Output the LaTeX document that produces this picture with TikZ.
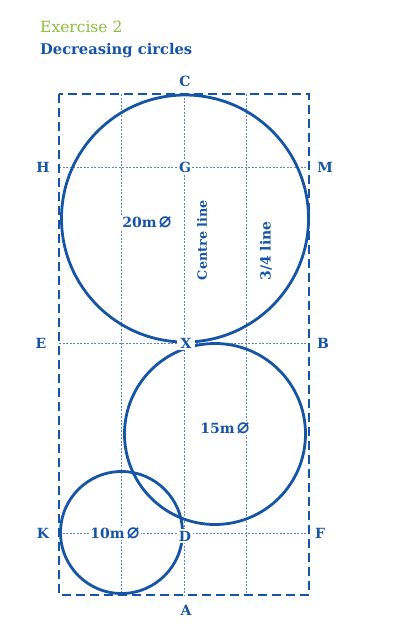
\documentclass[tikz,border=0pt]{standalone}
\usepackage{fontspec}
\setmainfont{DejaVu Serif}
\newfontfamily\dsans{DejaVu Sans}
\newcommand{\diam}{{\dsans\bfseries\fontsize{21}{21}\selectfont ⌀}}
\definecolor{pblue}{RGB}{22,84,165}
\definecolor{pgreen}{RGB}{140,190,60}
\definecolor{gblue}{RGB}{90,135,190}
\begin{document}
\begin{tikzpicture}[x=1pt,y=-1pt,
  lab/.style={font=\bfseries\fontsize{14}{15}\selectfont, text=pblue, inner sep=1.5pt},
  wlab/.style={lab, fill=white},
  gridline/.style={draw=gblue, line width=0.6pt, dash pattern=on 2pt off 1.5pt},
  frame/.style={draw=pblue, line width=2.4pt, dash pattern=on 9pt off 5pt},
  ring/.style={draw=pblue, line width=2.8pt}]
\useasboundingbox (0,0) rectangle (400,638);
% titles
\node[anchor=base west, inner sep=0pt, text=pgreen, font=\fontsize{15.5}{16}\selectfont] (ex) at (40,32) {Exercise 2};
\node[anchor=base west, inner sep=0pt, text=pblue, font=\bfseries\fontsize{14.7}{16}\selectfont] (title) at (40,54) {Decreasing circles};
% frame coordinates
\coordinate (NW) at (59,94);
\coordinate (NE) at (309,94);
\coordinate (SW) at (59,595);
\coordinate (SE) at (309,595);
\foreach \n/\x in {q1/121.5,q2/184,q3/246.5}{
  \coordinate (\n t) at (\x,94);
  \coordinate (\n b) at (\x,595);
}
\foreach \n/\y in {h1/167,h2/343,h3/533}{
  \coordinate (\n l) at (59,\y);
  \coordinate (\n r) at (309,\y);
}
% grid
\foreach \n in {q1,q2,q3}{\draw[gridline] (\n t) -- (\n b);}
\foreach \n in {h1,h2,h3}{\draw[gridline] (\n l) -- (\n r);}
% frame
\draw[frame] (NW) rectangle (SE);
% circles
\draw[ring] (185,218.5) circle[radius=123.5];
\draw[ring] (215,434) circle[radius=90.5];
\draw[ring] (121.5,532.5) circle[radius=61];
% labels
\node[lab] (C) at (185,81) {C};
\node[lab] (H) at (43,167) {H};
\node[wlab] (G) at (185,167) {G};
\node[lab] (M) at (325,167) {M};
\node[lab] (E) at (41,343) {E};
\node[wlab, inner xsep=4pt] (X) at (186,343) {X};
\node[lab] (B) at (323,343) {B};
\node[lab] (K) at (43,533) {K};
\node[wlab] (D) at (185,536) {D};
\node[lab] (F) at (320,533) {F};
\node[lab] (A) at (186,610) {A};
\node[wlab] (d20) at (147,222) {20m\,\diam};
\node[wlab] (d15) at (225,428) {15m\,\diam};
\node[wlab] (d10) at (115,533) {10m\,\diam};
\node[lab, font=\bfseries\fontsize{12.8}{14}\selectfont, rotate=90] (cl) at (202,240) {Centre line};
\node[lab, rotate=90] (ql) at (266,251) {3/4 line};
\end{tikzpicture}
\end{document}
